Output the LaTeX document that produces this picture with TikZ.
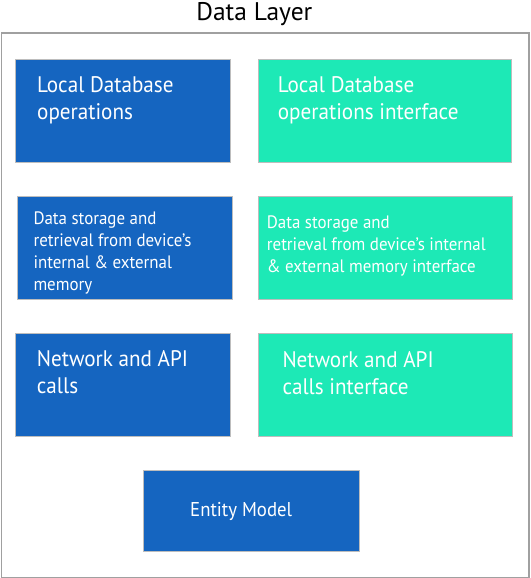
\documentclass[tikz,border=0pt]{standalone}
\usepackage{fontspec}
\setmainfont{PT Sans}
\newfontfamily\boxfont[FakeStretch=0.94]{PT Sans}
\definecolor{dblue}{HTML}{1565C0}
\definecolor{teal}{HTML}{1DE9B6}
\definecolor{boxgray}{HTML}{BDBDBD}
\definecolor{framegray}{HTML}{A0A0A0}
\tikzset{
  frm/.style={draw=framegray, line width=1.4pt, anchor=north west, inner sep=0pt, fill=none},
  blk/.style={draw=boxgray, line width=0.9pt, fill=dblue, anchor=north west, inner sep=0pt},
  tbk/.style={draw=boxgray, line width=0.9pt, fill=teal, anchor=north west, inner sep=0pt},
  big/.style={text=white, align=left, inner sep=0pt, anchor=base west, font=\boxfont\fontsize{22.5}{26.5}\selectfont},
  small/.style={text=white, align=left, inner sep=0pt, anchor=base west, font=\boxfont\fontsize{18}{22}\selectfont},
}
\begin{document}
\begin{tikzpicture}[x=1pt,y=-1pt]
\useasboundingbox (0,0) rectangle (530,578);
\node[frm, minimum width=527.6pt, minimum height=544.3pt] (frame) at (0.8,32.3) {};
\node[inner sep=0pt, anchor=base, font=\fontsize{25.5}{30}\selectfont] (title) at (254.4,20.7) {Data Layer};
% boxes
\node[blk, minimum width=214.8pt, minimum height=103pt] (b1) at (15.3,59.2) {};
\node[tbk, minimum width=253.2pt, minimum height=103pt] (t1) at (258.2,59.2) {};
\node[blk, minimum width=215pt, minimum height=103.3pt] (b2) at (16.7,195.7) {};
\node[tbk, minimum width=253.4pt, minimum height=103.3pt] (t2) at (258.3,195.7) {};
\node[blk, minimum width=214.7pt, minimum height=102.7pt] (b3) at (15.3,333.3) {};
\node[tbk, minimum width=253.4pt, minimum height=103.3pt] (t3) at (258.3,332.7) {};
\node[blk, minimum width=215.4pt, minimum height=81pt] (ent) at (143.3,470) {};
% texts (anchored at the baseline of the last line)
\node[big] (b1txt) at (37,119) {Local Database\\operations};
\node[big] (t1txt) at (277.7,119) {Local Database\\operations interface};
\node[small] (b2txt) at (33.3,290) {Data storage and\\retrieval from device’s\\internal \& external\\memory};
\node[small] (t2txt) at (266.7,272.3) {Data storage and\\retrieval from device’s internal\\\& external memory interface};
\node[big] (b3txt) at (36.7,393.3) {Network and API\\calls};
\node[big] (t3txt) at (282.3,394) {Network and API\\calls interface};
\node[text=white, inner sep=0pt, anchor=base west, font=\boxfont\fontsize{20}{24}\selectfont] (enttxt) at (190,516.7) {Entity Model};
\end{tikzpicture}
\end{document}
